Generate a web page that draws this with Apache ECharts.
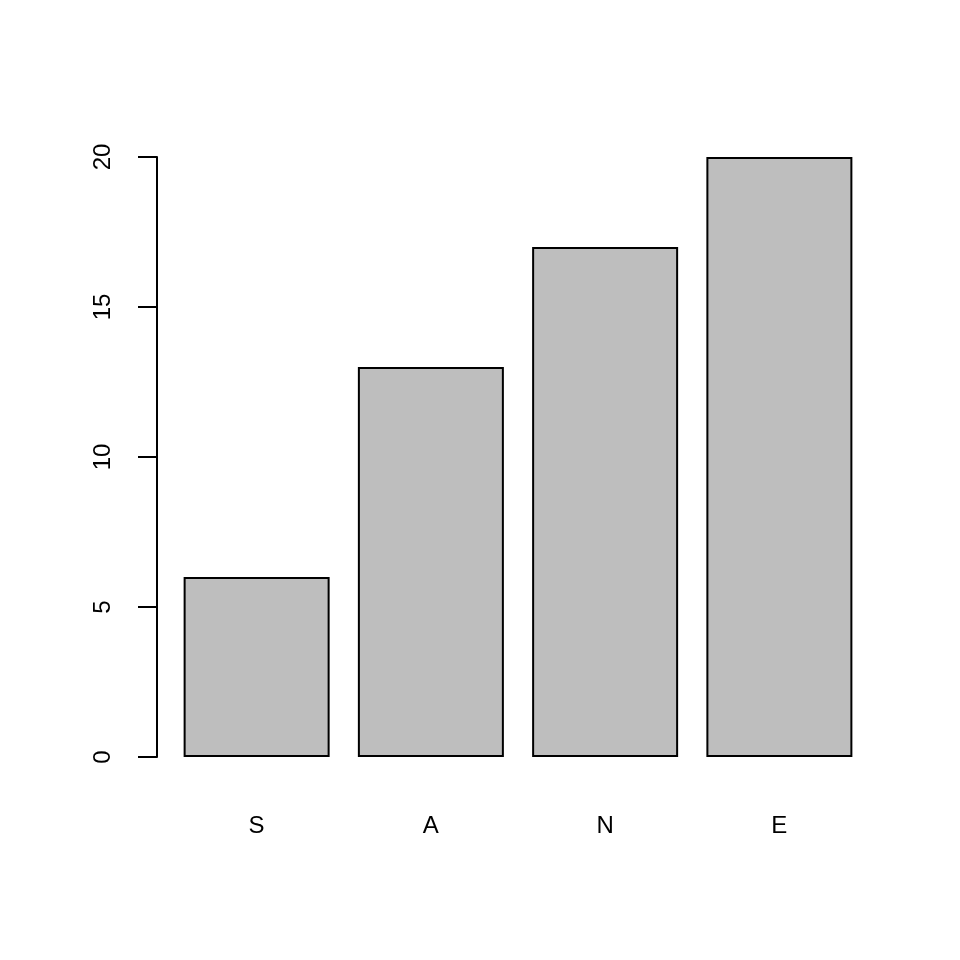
<!DOCTYPE html>
<html><head><meta charset="utf-8">
<script src="https://cdn.jsdelivr.net/npm/echarts@6/dist/echarts.min.js"></script>
<style>html,body{margin:0;padding:0;background:#fff}#c{width:960px;height:960px}</style>
</head><body><div id="c"></div>
<script>
const categories = ['S', 'A', 'N', 'E'];
const values = [6, 13, 17, 20];
const yTicks = [0, 5, 10, 15, 20];

const chart = echarts.init(document.getElementById('c'), null, {renderer: 'canvas'});
chart.setOption({
  animation: false,
  backgroundColor: '#ffffff',
  grid: {left: 169.5, right: 93.5, top: 157, bottom: 203, containLabel: false},
  xAxis: {
    type: 'category', data: categories,
    axisLine: {show: false}, axisTick: {show: false},
    axisLabel: {margin: 57, fontSize: 24, color: '#000', fontFamily: 'Liberation Sans, Arial, sans-serif'}
  },
  yAxis: {
    type: 'value', min: yTicks[0], max: yTicks[yTicks.length - 1], interval: 5,
    offset: 12.5,
    splitLine: {show: false},
    axisLine: {show: true, lineStyle: {color: '#000', width: 2}},
    axisTick: {show: true, length: 19, lineStyle: {color: '#000', width: 2}},
    axisLabel: {rotate: 90, margin: 42, fontSize: 24, color: '#000', fontFamily: 'Liberation Sans, Arial, sans-serif'}
  },
  series: [{
    type: 'bar', data: values, barWidth: 146,
    itemStyle: {color: '#bebebe', borderColor: '#000', borderWidth: 2}
  }]
});
</script></body></html>
